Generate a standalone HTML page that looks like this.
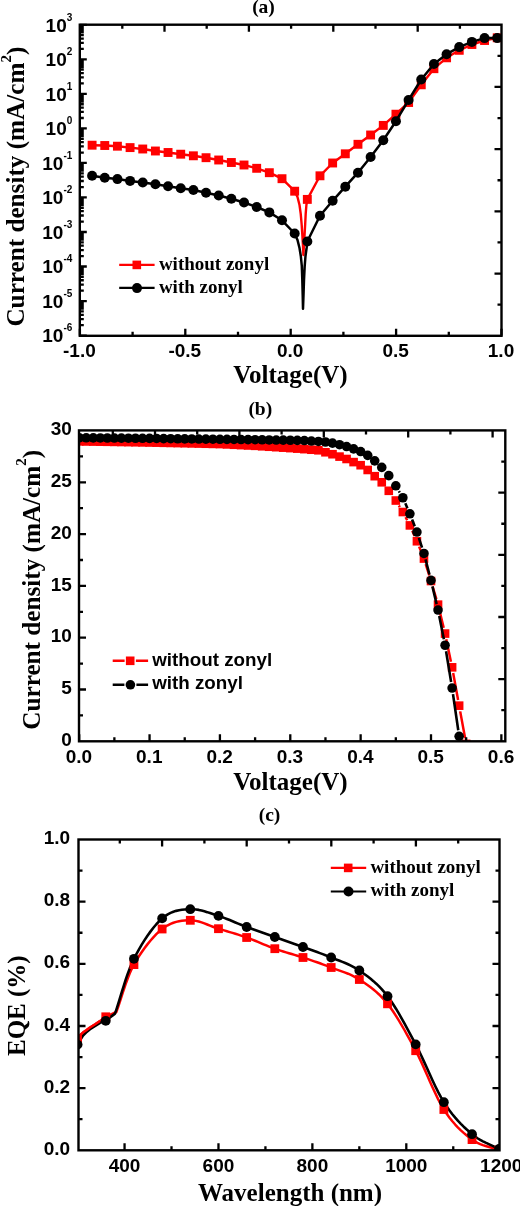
<!DOCTYPE html>
<html><head><meta charset="utf-8"><title>J-V and EQE curves</title>
<style>
html,body{margin:0;padding:0;background:#fff;}
body{width:520px;height:1206px;overflow:hidden;}
svg{display:block;}
</style></head>
<body>
<svg width="520" height="1206" viewBox="0 0 520 1206">
<rect width="520" height="1206" fill="#fff"/>
<defs>
<clipPath id="ca"><rect x="79.8" y="24.7" width="421.7" height="311.1"/></clipPath>
</defs>
<text x="263.5" y="12.8" font-family="'Liberation Serif', 'Times New Roman', serif" font-weight="bold" font-size="19.5" text-anchor="middle">(a)</text>
<path d="M92.1 145.2 L104.76 145.5 L117.42 146.2 L130.08 147.6 L142.74 149 L155.4 151 L168.06 152.5 L180.72 154.2 L193.38 155.8 L206.04 157.7 L218.7 160 L231.36 162.5 L244.02 165 L256.68 168.3 L269.34 172.7 L282 178.7 L294.66 191.2 L297.5 197 L299.5 205 L300.7 213.6 L301.7 225 L302.4 236 L303 246 L303.4 255 L303.9 246 L304.5 236 L305.2 224 L305.7 213.6 L306.4 205 L307.32 199.4 L319.98 175.8 L332.64 163 L345.3 153.8 L357.96 144.3 L370.62 135 L383.28 125.4 L395.94 114.2 L408.6 102.5 L421.26 84.8 L433.92 68.7 L446.58 57.8 L459.24 50.3 L471.9 44.5 L484.56 40.5 L497.22 37.8" fill="none" stroke="#ff0000" stroke-width="2.4" stroke-linejoin="round" stroke-linecap="butt" clip-path="url(#ca)"/>
<rect x="87.65" y="140.75" width="8.9" height="8.9" fill="#ff0000" clip-path="url(#ca)"/>
<rect x="100.31" y="141.05" width="8.9" height="8.9" fill="#ff0000" clip-path="url(#ca)"/>
<rect x="112.97" y="141.75" width="8.9" height="8.9" fill="#ff0000" clip-path="url(#ca)"/>
<rect x="125.63" y="143.15" width="8.9" height="8.9" fill="#ff0000" clip-path="url(#ca)"/>
<rect x="138.29" y="144.55" width="8.9" height="8.9" fill="#ff0000" clip-path="url(#ca)"/>
<rect x="150.95" y="146.55" width="8.9" height="8.9" fill="#ff0000" clip-path="url(#ca)"/>
<rect x="163.61" y="148.05" width="8.9" height="8.9" fill="#ff0000" clip-path="url(#ca)"/>
<rect x="176.27" y="149.75" width="8.9" height="8.9" fill="#ff0000" clip-path="url(#ca)"/>
<rect x="188.93" y="151.35" width="8.9" height="8.9" fill="#ff0000" clip-path="url(#ca)"/>
<rect x="201.59" y="153.25" width="8.9" height="8.9" fill="#ff0000" clip-path="url(#ca)"/>
<rect x="214.25" y="155.55" width="8.9" height="8.9" fill="#ff0000" clip-path="url(#ca)"/>
<rect x="226.91" y="158.05" width="8.9" height="8.9" fill="#ff0000" clip-path="url(#ca)"/>
<rect x="239.57" y="160.55" width="8.9" height="8.9" fill="#ff0000" clip-path="url(#ca)"/>
<rect x="252.23" y="163.85" width="8.9" height="8.9" fill="#ff0000" clip-path="url(#ca)"/>
<rect x="264.89" y="168.25" width="8.9" height="8.9" fill="#ff0000" clip-path="url(#ca)"/>
<rect x="277.55" y="174.25" width="8.9" height="8.9" fill="#ff0000" clip-path="url(#ca)"/>
<rect x="290.21" y="186.75" width="8.9" height="8.9" fill="#ff0000" clip-path="url(#ca)"/>
<rect x="302.87" y="194.95" width="8.9" height="8.9" fill="#ff0000" clip-path="url(#ca)"/>
<rect x="315.53" y="171.35" width="8.9" height="8.9" fill="#ff0000" clip-path="url(#ca)"/>
<rect x="328.19" y="158.55" width="8.9" height="8.9" fill="#ff0000" clip-path="url(#ca)"/>
<rect x="340.85" y="149.35" width="8.9" height="8.9" fill="#ff0000" clip-path="url(#ca)"/>
<rect x="353.51" y="139.85" width="8.9" height="8.9" fill="#ff0000" clip-path="url(#ca)"/>
<rect x="366.17" y="130.55" width="8.9" height="8.9" fill="#ff0000" clip-path="url(#ca)"/>
<rect x="378.83" y="120.95" width="8.9" height="8.9" fill="#ff0000" clip-path="url(#ca)"/>
<rect x="391.49" y="109.75" width="8.9" height="8.9" fill="#ff0000" clip-path="url(#ca)"/>
<rect x="404.15" y="98.05" width="8.9" height="8.9" fill="#ff0000" clip-path="url(#ca)"/>
<rect x="416.81" y="80.35" width="8.9" height="8.9" fill="#ff0000" clip-path="url(#ca)"/>
<rect x="429.47" y="64.25" width="8.9" height="8.9" fill="#ff0000" clip-path="url(#ca)"/>
<rect x="442.13" y="53.35" width="8.9" height="8.9" fill="#ff0000" clip-path="url(#ca)"/>
<rect x="454.79" y="45.85" width="8.9" height="8.9" fill="#ff0000" clip-path="url(#ca)"/>
<rect x="467.45" y="40.05" width="8.9" height="8.9" fill="#ff0000" clip-path="url(#ca)"/>
<rect x="480.11" y="36.05" width="8.9" height="8.9" fill="#ff0000" clip-path="url(#ca)"/>
<rect x="492.77" y="33.35" width="8.9" height="8.9" fill="#ff0000" clip-path="url(#ca)"/>
<path d="M92.1 175.8 L104.76 177.8 L117.42 179.1 L130.08 180.9 L142.74 182.5 L155.4 184.3 L168.06 186.3 L180.72 188.3 L193.38 190 L206.04 192.8 L218.7 195.5 L231.36 198.8 L244.02 202.5 L256.68 207 L269.34 212.4 L282 220.3 L294.66 233.5 L297.5 240 L299.5 248 L300.8 256 L301.8 266 L302.3 280 L302.7 295 L303 308.8 L303.5 295 L304 280 L304.7 266 L305.5 256 L306.6 248 L307.32 241.5 L319.98 215.7 L332.64 200.8 L345.3 186.7 L357.96 172.7 L370.62 157 L383.28 140.2 L395.94 121.2 L408.6 100 L421.26 79.5 L433.92 64 L446.58 54.2 L459.24 47.1 L471.9 41.9 L484.56 38.1 L497.22 38.1" fill="none" stroke="#000000" stroke-width="2.5" stroke-linejoin="round" stroke-linecap="butt" clip-path="url(#ca)"/>
<circle cx="92.1" cy="175.8" r="5" fill="#000000" clip-path="url(#ca)"/>
<circle cx="104.76" cy="177.8" r="5" fill="#000000" clip-path="url(#ca)"/>
<circle cx="117.42" cy="179.1" r="5" fill="#000000" clip-path="url(#ca)"/>
<circle cx="130.08" cy="180.9" r="5" fill="#000000" clip-path="url(#ca)"/>
<circle cx="142.74" cy="182.5" r="5" fill="#000000" clip-path="url(#ca)"/>
<circle cx="155.4" cy="184.3" r="5" fill="#000000" clip-path="url(#ca)"/>
<circle cx="168.06" cy="186.3" r="5" fill="#000000" clip-path="url(#ca)"/>
<circle cx="180.72" cy="188.3" r="5" fill="#000000" clip-path="url(#ca)"/>
<circle cx="193.38" cy="190" r="5" fill="#000000" clip-path="url(#ca)"/>
<circle cx="206.04" cy="192.8" r="5" fill="#000000" clip-path="url(#ca)"/>
<circle cx="218.7" cy="195.5" r="5" fill="#000000" clip-path="url(#ca)"/>
<circle cx="231.36" cy="198.8" r="5" fill="#000000" clip-path="url(#ca)"/>
<circle cx="244.02" cy="202.5" r="5" fill="#000000" clip-path="url(#ca)"/>
<circle cx="256.68" cy="207" r="5" fill="#000000" clip-path="url(#ca)"/>
<circle cx="269.34" cy="212.4" r="5" fill="#000000" clip-path="url(#ca)"/>
<circle cx="282" cy="220.3" r="5" fill="#000000" clip-path="url(#ca)"/>
<circle cx="294.66" cy="233.5" r="5" fill="#000000" clip-path="url(#ca)"/>
<circle cx="307.32" cy="241.5" r="5" fill="#000000" clip-path="url(#ca)"/>
<circle cx="319.98" cy="215.7" r="5" fill="#000000" clip-path="url(#ca)"/>
<circle cx="332.64" cy="200.8" r="5" fill="#000000" clip-path="url(#ca)"/>
<circle cx="345.3" cy="186.7" r="5" fill="#000000" clip-path="url(#ca)"/>
<circle cx="357.96" cy="172.7" r="5" fill="#000000" clip-path="url(#ca)"/>
<circle cx="370.62" cy="157" r="5" fill="#000000" clip-path="url(#ca)"/>
<circle cx="383.28" cy="140.2" r="5" fill="#000000" clip-path="url(#ca)"/>
<circle cx="395.94" cy="121.2" r="5" fill="#000000" clip-path="url(#ca)"/>
<circle cx="408.6" cy="100" r="5" fill="#000000" clip-path="url(#ca)"/>
<circle cx="421.26" cy="79.5" r="5" fill="#000000" clip-path="url(#ca)"/>
<circle cx="433.92" cy="64" r="5" fill="#000000" clip-path="url(#ca)"/>
<circle cx="446.58" cy="54.2" r="5" fill="#000000" clip-path="url(#ca)"/>
<circle cx="459.24" cy="47.1" r="5" fill="#000000" clip-path="url(#ca)"/>
<circle cx="471.9" cy="41.9" r="5" fill="#000000" clip-path="url(#ca)"/>
<circle cx="484.56" cy="38.1" r="5" fill="#000000" clip-path="url(#ca)"/>
<circle cx="497.22" cy="38.1" r="5" fill="#000000" clip-path="url(#ca)"/>
<rect x="79.8" y="24.7" width="421.7" height="311.1" fill="none" stroke="#000" stroke-width="2.4"/>
<path d="M79.9 335.8L79.9 328.8 M132.6 335.8L132.6 331.8 M185.3 335.8L185.3 328.8 M238 335.8L238 331.8 M290.7 335.8L290.7 328.8 M343.4 335.8L343.4 331.8 M396.1 335.8L396.1 328.8 M448.8 335.8L448.8 331.8 M501.5 335.8L501.5 328.8 M122.3 24.7L122.3 28.7 M164.5 24.7L164.5 31.7 M206.7 24.7L206.7 28.7 M248.9 24.7L248.9 31.7 M291.1 24.7L291.1 28.7 M333.3 24.7L333.3 31.7 M375.5 24.7L375.5 28.7 M417.7 24.7L417.7 31.7 M459.9 24.7L459.9 28.7 M79.8 335.57L86.8 335.57 M79.8 325.18L83.8 325.18 M79.8 319.1L83.8 319.1 M79.8 314.78L83.8 314.78 M79.8 311.43L83.8 311.43 M79.8 308.7L83.8 308.7 M79.8 306.39L83.8 306.39 M79.8 304.39L83.8 304.39 M79.8 302.62L83.8 302.62 M79.8 301.04L86.8 301.04 M79.8 290.65L83.8 290.65 M79.8 284.57L83.8 284.57 M79.8 280.25L83.8 280.25 M79.8 276.9L83.8 276.9 M79.8 274.17L83.8 274.17 M79.8 271.86L83.8 271.86 M79.8 269.86L83.8 269.86 M79.8 268.09L83.8 268.09 M79.8 266.51L86.8 266.51 M79.8 256.12L83.8 256.12 M79.8 250.04L83.8 250.04 M79.8 245.72L83.8 245.72 M79.8 242.37L83.8 242.37 M79.8 239.64L83.8 239.64 M79.8 237.33L83.8 237.33 M79.8 235.33L83.8 235.33 M79.8 233.56L83.8 233.56 M79.8 231.98L86.8 231.98 M79.8 221.59L83.8 221.59 M79.8 215.51L83.8 215.51 M79.8 211.19L83.8 211.19 M79.8 207.84L83.8 207.84 M79.8 205.11L83.8 205.11 M79.8 202.8L83.8 202.8 M79.8 200.8L83.8 200.8 M79.8 199.03L83.8 199.03 M79.8 197.45L86.8 197.45 M79.8 187.06L83.8 187.06 M79.8 180.98L83.8 180.98 M79.8 176.66L83.8 176.66 M79.8 173.31L83.8 173.31 M79.8 170.58L83.8 170.58 M79.8 168.27L83.8 168.27 M79.8 166.27L83.8 166.27 M79.8 164.5L83.8 164.5 M79.8 162.92L86.8 162.92 M79.8 152.53L83.8 152.53 M79.8 146.45L83.8 146.45 M79.8 142.13L83.8 142.13 M79.8 138.78L83.8 138.78 M79.8 136.05L83.8 136.05 M79.8 133.74L83.8 133.74 M79.8 131.74L83.8 131.74 M79.8 129.97L83.8 129.97 M79.8 128.39L86.8 128.39 M79.8 118L83.8 118 M79.8 111.92L83.8 111.92 M79.8 107.6L83.8 107.6 M79.8 104.25L83.8 104.25 M79.8 101.52L83.8 101.52 M79.8 99.21L83.8 99.21 M79.8 97.21L83.8 97.21 M79.8 95.44L83.8 95.44 M79.8 93.86L86.8 93.86 M79.8 83.47L83.8 83.47 M79.8 77.39L83.8 77.39 M79.8 73.07L83.8 73.07 M79.8 69.72L83.8 69.72 M79.8 66.99L83.8 66.99 M79.8 64.68L83.8 64.68 M79.8 62.68L83.8 62.68 M79.8 60.91L83.8 60.91 M79.8 59.33L86.8 59.33 M79.8 48.94L83.8 48.94 M79.8 42.86L83.8 42.86 M79.8 38.54L83.8 38.54 M79.8 35.19L83.8 35.19 M79.8 32.46L83.8 32.46 M79.8 30.15L83.8 30.15 M79.8 28.15L83.8 28.15 M79.8 26.38L83.8 26.38 M79.8 24.8L86.8 24.8 M501.5 55.81L497.5 55.81 M501.5 86.92L494.5 86.92 M501.5 118.03L497.5 118.03 M501.5 149.14L494.5 149.14 M501.5 180.25L497.5 180.25 M501.5 211.36L494.5 211.36 M501.5 242.47L497.5 242.47 M501.5 273.58L494.5 273.58 M501.5 304.69L497.5 304.69" stroke="#000" stroke-width="2.3" fill="none"/>
<text x="79.4" y="356.8" font-family="'Liberation Sans', Arial, sans-serif" font-weight="bold" font-size="19" text-anchor="middle">-1.0</text>
<text x="184.8" y="356.8" font-family="'Liberation Sans', Arial, sans-serif" font-weight="bold" font-size="19" text-anchor="middle">-0.5</text>
<text x="290.2" y="356.8" font-family="'Liberation Sans', Arial, sans-serif" font-weight="bold" font-size="19" text-anchor="middle">0.0</text>
<text x="395.6" y="356.8" font-family="'Liberation Sans', Arial, sans-serif" font-weight="bold" font-size="19" text-anchor="middle">0.5</text>
<text x="501" y="356.8" font-family="'Liberation Sans', Arial, sans-serif" font-weight="bold" font-size="19" text-anchor="middle">1.0</text>
<text x="72.3" y="342.27" font-family="'Liberation Sans', Arial, sans-serif" font-weight="bold" font-size="19" text-anchor="end">10<tspan font-size="10" dy="-10.8">-6</tspan></text>
<text x="72.3" y="307.74" font-family="'Liberation Sans', Arial, sans-serif" font-weight="bold" font-size="19" text-anchor="end">10<tspan font-size="10" dy="-10.8">-5</tspan></text>
<text x="72.3" y="273.21" font-family="'Liberation Sans', Arial, sans-serif" font-weight="bold" font-size="19" text-anchor="end">10<tspan font-size="10" dy="-10.8">-4</tspan></text>
<text x="72.3" y="238.68" font-family="'Liberation Sans', Arial, sans-serif" font-weight="bold" font-size="19" text-anchor="end">10<tspan font-size="10" dy="-10.8">-3</tspan></text>
<text x="72.3" y="204.15" font-family="'Liberation Sans', Arial, sans-serif" font-weight="bold" font-size="19" text-anchor="end">10<tspan font-size="10" dy="-10.8">-2</tspan></text>
<text x="72.3" y="169.62" font-family="'Liberation Sans', Arial, sans-serif" font-weight="bold" font-size="19" text-anchor="end">10<tspan font-size="10" dy="-10.8">-1</tspan></text>
<text x="72.3" y="135.09" font-family="'Liberation Sans', Arial, sans-serif" font-weight="bold" font-size="19" text-anchor="end">10<tspan font-size="10" dy="-10.8">0</tspan></text>
<text x="72.3" y="100.56" font-family="'Liberation Sans', Arial, sans-serif" font-weight="bold" font-size="19" text-anchor="end">10<tspan font-size="10" dy="-10.8">1</tspan></text>
<text x="72.3" y="66.03" font-family="'Liberation Sans', Arial, sans-serif" font-weight="bold" font-size="19" text-anchor="end">10<tspan font-size="10" dy="-10.8">2</tspan></text>
<text x="72.3" y="31.5" font-family="'Liberation Sans', Arial, sans-serif" font-weight="bold" font-size="19" text-anchor="end">10<tspan font-size="10" dy="-10.8">3</tspan></text>
<text x="290.5" y="383" font-family="'Liberation Serif', 'Times New Roman', serif" font-weight="bold" font-size="25" text-anchor="middle">Voltage(V)</text>
<text transform="translate(24.4 186.65) rotate(-90)" font-family="'Liberation Serif', 'Times New Roman', serif" font-weight="bold" font-size="25.2" text-anchor="middle">Current density (mA/cm<tspan font-size="15" dy="-13.7">2</tspan><tspan dy="13.7">)</tspan></text>
<path d="M119.2 264.9 L154.6 264.9" fill="none" stroke="#ff0000" stroke-width="2.2" stroke-linejoin="round" stroke-linecap="butt"/>
<rect x="132.5" y="260.6" width="8.6" height="8.6" fill="#ff0000"/>
<path d="M119.2 287.9 L154.6 287.9" fill="none" stroke="#000000" stroke-width="2.2" stroke-linejoin="round" stroke-linecap="butt"/>
<circle cx="137" cy="288.1" r="5" fill="#000000"/>
<text x="158.9" y="269.8" font-family="'Liberation Serif', 'Times New Roman', serif" font-weight="bold" font-size="19" text-anchor="start">without zonyl</text>
<text x="158.9" y="293.3" font-family="'Liberation Serif', 'Times New Roman', serif" font-weight="bold" font-size="19" text-anchor="start">with zonyl</text>
<defs><clipPath id="cb"><rect x="79" y="430.4" width="426.3" height="310.9"/></clipPath></defs>
<text x="260.3" y="415.1" font-family="'Liberation Serif', 'Times New Roman', serif" font-weight="bold" font-size="19.5" text-anchor="middle">(b)</text>
<path d="M398.85 505.48L399.83 507.09 M405.56 517.17L407.19 520.27 M412.25 530.7L414.57 535.95 M419.11 546.62L421.78 553.18 M425.7 564.08L429.27 575.5 M432.66 586.59L436.38 599.09 M439.41 610.29L443.7 627.92 M446.25 639.23L450.93 661.65 M453.16 673.03L458.1 699.96 M460.19 711.37L465.13 738.19" stroke="#ff0000" stroke-width="2.5" fill="none" clip-path="url(#cb)"/>
<rect x="74.9" y="437.08" width="8.6" height="8.6" fill="#ff0000" clip-path="url(#cb)"/>
<rect x="81.94" y="437.18" width="8.6" height="8.6" fill="#ff0000" clip-path="url(#cb)"/>
<rect x="88.97" y="437.29" width="8.6" height="8.6" fill="#ff0000" clip-path="url(#cb)"/>
<rect x="96.01" y="437.39" width="8.6" height="8.6" fill="#ff0000" clip-path="url(#cb)"/>
<rect x="103.04" y="437.49" width="8.6" height="8.6" fill="#ff0000" clip-path="url(#cb)"/>
<rect x="110.08" y="437.6" width="8.6" height="8.6" fill="#ff0000" clip-path="url(#cb)"/>
<rect x="117.12" y="437.72" width="8.6" height="8.6" fill="#ff0000" clip-path="url(#cb)"/>
<rect x="124.15" y="437.84" width="8.6" height="8.6" fill="#ff0000" clip-path="url(#cb)"/>
<rect x="131.19" y="437.97" width="8.6" height="8.6" fill="#ff0000" clip-path="url(#cb)"/>
<rect x="138.22" y="438.09" width="8.6" height="8.6" fill="#ff0000" clip-path="url(#cb)"/>
<rect x="145.26" y="438.22" width="8.6" height="8.6" fill="#ff0000" clip-path="url(#cb)"/>
<rect x="152.3" y="438.36" width="8.6" height="8.6" fill="#ff0000" clip-path="url(#cb)"/>
<rect x="159.33" y="438.51" width="8.6" height="8.6" fill="#ff0000" clip-path="url(#cb)"/>
<rect x="166.37" y="438.65" width="8.6" height="8.6" fill="#ff0000" clip-path="url(#cb)"/>
<rect x="173.4" y="438.8" width="8.6" height="8.6" fill="#ff0000" clip-path="url(#cb)"/>
<rect x="180.44" y="438.94" width="8.6" height="8.6" fill="#ff0000" clip-path="url(#cb)"/>
<rect x="187.48" y="439.11" width="8.6" height="8.6" fill="#ff0000" clip-path="url(#cb)"/>
<rect x="194.51" y="439.27" width="8.6" height="8.6" fill="#ff0000" clip-path="url(#cb)"/>
<rect x="201.55" y="439.44" width="8.6" height="8.6" fill="#ff0000" clip-path="url(#cb)"/>
<rect x="208.58" y="439.61" width="8.6" height="8.6" fill="#ff0000" clip-path="url(#cb)"/>
<rect x="215.62" y="439.77" width="8.6" height="8.6" fill="#ff0000" clip-path="url(#cb)"/>
<rect x="222.66" y="440.12" width="8.6" height="8.6" fill="#ff0000" clip-path="url(#cb)"/>
<rect x="229.69" y="440.48" width="8.6" height="8.6" fill="#ff0000" clip-path="url(#cb)"/>
<rect x="236.73" y="440.83" width="8.6" height="8.6" fill="#ff0000" clip-path="url(#cb)"/>
<rect x="243.76" y="441.18" width="8.6" height="8.6" fill="#ff0000" clip-path="url(#cb)"/>
<rect x="250.8" y="441.53" width="8.6" height="8.6" fill="#ff0000" clip-path="url(#cb)"/>
<rect x="257.84" y="441.99" width="8.6" height="8.6" fill="#ff0000" clip-path="url(#cb)"/>
<rect x="264.87" y="442.44" width="8.6" height="8.6" fill="#ff0000" clip-path="url(#cb)"/>
<rect x="271.91" y="442.9" width="8.6" height="8.6" fill="#ff0000" clip-path="url(#cb)"/>
<rect x="278.94" y="443.36" width="8.6" height="8.6" fill="#ff0000" clip-path="url(#cb)"/>
<rect x="285.98" y="443.81" width="8.6" height="8.6" fill="#ff0000" clip-path="url(#cb)"/>
<rect x="293.02" y="444.33" width="8.6" height="8.6" fill="#ff0000" clip-path="url(#cb)"/>
<rect x="300.05" y="444.85" width="8.6" height="8.6" fill="#ff0000" clip-path="url(#cb)"/>
<rect x="307.09" y="445.42" width="8.6" height="8.6" fill="#ff0000" clip-path="url(#cb)"/>
<rect x="314.12" y="445.99" width="8.6" height="8.6" fill="#ff0000" clip-path="url(#cb)"/>
<rect x="321.16" y="447.96" width="8.6" height="8.6" fill="#ff0000" clip-path="url(#cb)"/>
<rect x="328.2" y="449.92" width="8.6" height="8.6" fill="#ff0000" clip-path="url(#cb)"/>
<rect x="335.23" y="452.31" width="8.6" height="8.6" fill="#ff0000" clip-path="url(#cb)"/>
<rect x="342.27" y="454.69" width="8.6" height="8.6" fill="#ff0000" clip-path="url(#cb)"/>
<rect x="349.3" y="457.8" width="8.6" height="8.6" fill="#ff0000" clip-path="url(#cb)"/>
<rect x="356.34" y="460.91" width="8.6" height="8.6" fill="#ff0000" clip-path="url(#cb)"/>
<rect x="363.38" y="465.67" width="8.6" height="8.6" fill="#ff0000" clip-path="url(#cb)"/>
<rect x="370.41" y="471.89" width="8.6" height="8.6" fill="#ff0000" clip-path="url(#cb)"/>
<rect x="377.45" y="478" width="8.6" height="8.6" fill="#ff0000" clip-path="url(#cb)"/>
<rect x="384.48" y="486.5" width="8.6" height="8.6" fill="#ff0000" clip-path="url(#cb)"/>
<rect x="391.52" y="496.23" width="8.6" height="8.6" fill="#ff0000" clip-path="url(#cb)"/>
<rect x="398.56" y="507.73" width="8.6" height="8.6" fill="#ff0000" clip-path="url(#cb)"/>
<rect x="405.59" y="521.1" width="8.6" height="8.6" fill="#ff0000" clip-path="url(#cb)"/>
<rect x="412.63" y="536.95" width="8.6" height="8.6" fill="#ff0000" clip-path="url(#cb)"/>
<rect x="419.66" y="554.25" width="8.6" height="8.6" fill="#ff0000" clip-path="url(#cb)"/>
<rect x="426.7" y="576.73" width="8.6" height="8.6" fill="#ff0000" clip-path="url(#cb)"/>
<rect x="433.74" y="600.35" width="8.6" height="8.6" fill="#ff0000" clip-path="url(#cb)"/>
<rect x="440.77" y="629.26" width="8.6" height="8.6" fill="#ff0000" clip-path="url(#cb)"/>
<rect x="447.81" y="663.03" width="8.6" height="8.6" fill="#ff0000" clip-path="url(#cb)"/>
<rect x="454.84" y="701.36" width="8.6" height="8.6" fill="#ff0000" clip-path="url(#cb)"/>
<rect x="461.88" y="739.59" width="8.6" height="8.6" fill="#ff0000" clip-path="url(#cb)"/>
<path d="M398.92 491.07L399.75 492.48 M405.3 503.32L407.44 508.21 M412.09 519.49L414.73 526.34 M418.83 537.82L422.06 547.68 M425.51 559.38L429.46 574.51 M432.41 586.34L436.63 604.1 M439.23 616.02L443.88 639.28 M446.06 651.28L451.12 682.03 M452.99 694.09L458.26 730.29" stroke="#000000" stroke-width="2.6" fill="none" clip-path="url(#cb)"/>
<circle cx="79.2" cy="437.75" r="4.8" fill="#000000" clip-path="url(#cb)"/>
<circle cx="86.24" cy="437.81" r="4.8" fill="#000000" clip-path="url(#cb)"/>
<circle cx="93.27" cy="437.88" r="4.8" fill="#000000" clip-path="url(#cb)"/>
<circle cx="100.31" cy="437.94" r="4.8" fill="#000000" clip-path="url(#cb)"/>
<circle cx="107.34" cy="438" r="4.8" fill="#000000" clip-path="url(#cb)"/>
<circle cx="114.38" cy="438.06" r="4.8" fill="#000000" clip-path="url(#cb)"/>
<circle cx="121.42" cy="438.12" r="4.8" fill="#000000" clip-path="url(#cb)"/>
<circle cx="128.45" cy="438.19" r="4.8" fill="#000000" clip-path="url(#cb)"/>
<circle cx="135.49" cy="438.25" r="4.8" fill="#000000" clip-path="url(#cb)"/>
<circle cx="142.52" cy="438.31" r="4.8" fill="#000000" clip-path="url(#cb)"/>
<circle cx="149.56" cy="438.37" r="4.8" fill="#000000" clip-path="url(#cb)"/>
<circle cx="156.6" cy="438.48" r="4.8" fill="#000000" clip-path="url(#cb)"/>
<circle cx="163.63" cy="438.58" r="4.8" fill="#000000" clip-path="url(#cb)"/>
<circle cx="170.67" cy="438.68" r="4.8" fill="#000000" clip-path="url(#cb)"/>
<circle cx="177.7" cy="438.79" r="4.8" fill="#000000" clip-path="url(#cb)"/>
<circle cx="184.74" cy="438.89" r="4.8" fill="#000000" clip-path="url(#cb)"/>
<circle cx="191.78" cy="438.97" r="4.8" fill="#000000" clip-path="url(#cb)"/>
<circle cx="198.81" cy="439.06" r="4.8" fill="#000000" clip-path="url(#cb)"/>
<circle cx="205.85" cy="439.14" r="4.8" fill="#000000" clip-path="url(#cb)"/>
<circle cx="212.88" cy="439.22" r="4.8" fill="#000000" clip-path="url(#cb)"/>
<circle cx="219.92" cy="439.31" r="4.8" fill="#000000" clip-path="url(#cb)"/>
<circle cx="226.96" cy="439.39" r="4.8" fill="#000000" clip-path="url(#cb)"/>
<circle cx="233.99" cy="439.47" r="4.8" fill="#000000" clip-path="url(#cb)"/>
<circle cx="241.03" cy="439.55" r="4.8" fill="#000000" clip-path="url(#cb)"/>
<circle cx="248.06" cy="439.64" r="4.8" fill="#000000" clip-path="url(#cb)"/>
<circle cx="255.1" cy="439.72" r="4.8" fill="#000000" clip-path="url(#cb)"/>
<circle cx="262.14" cy="439.82" r="4.8" fill="#000000" clip-path="url(#cb)"/>
<circle cx="269.17" cy="439.93" r="4.8" fill="#000000" clip-path="url(#cb)"/>
<circle cx="276.21" cy="440.03" r="4.8" fill="#000000" clip-path="url(#cb)"/>
<circle cx="283.24" cy="440.13" r="4.8" fill="#000000" clip-path="url(#cb)"/>
<circle cx="290.28" cy="440.24" r="4.8" fill="#000000" clip-path="url(#cb)"/>
<circle cx="297.32" cy="440.39" r="4.8" fill="#000000" clip-path="url(#cb)"/>
<circle cx="304.35" cy="440.55" r="4.8" fill="#000000" clip-path="url(#cb)"/>
<circle cx="311.39" cy="441.02" r="4.8" fill="#000000" clip-path="url(#cb)"/>
<circle cx="318.42" cy="441.48" r="4.8" fill="#000000" clip-path="url(#cb)"/>
<circle cx="325.46" cy="442" r="4.8" fill="#000000" clip-path="url(#cb)"/>
<circle cx="332.5" cy="443.14" r="4.8" fill="#000000" clip-path="url(#cb)"/>
<circle cx="339.53" cy="444.69" r="4.8" fill="#000000" clip-path="url(#cb)"/>
<circle cx="346.57" cy="446.56" r="4.8" fill="#000000" clip-path="url(#cb)"/>
<circle cx="353.6" cy="448.84" r="4.8" fill="#000000" clip-path="url(#cb)"/>
<circle cx="360.64" cy="451.53" r="4.8" fill="#000000" clip-path="url(#cb)"/>
<circle cx="367.68" cy="455.36" r="4.8" fill="#000000" clip-path="url(#cb)"/>
<circle cx="374.71" cy="460.85" r="4.8" fill="#000000" clip-path="url(#cb)"/>
<circle cx="381.75" cy="467.38" r="4.8" fill="#000000" clip-path="url(#cb)"/>
<circle cx="388.78" cy="475.67" r="4.8" fill="#000000" clip-path="url(#cb)"/>
<circle cx="395.82" cy="485.82" r="4.8" fill="#000000" clip-path="url(#cb)"/>
<circle cx="402.86" cy="497.74" r="4.8" fill="#000000" clip-path="url(#cb)"/>
<circle cx="409.89" cy="513.79" r="4.8" fill="#000000" clip-path="url(#cb)"/>
<circle cx="416.93" cy="532.03" r="4.8" fill="#000000" clip-path="url(#cb)"/>
<circle cx="423.96" cy="553.47" r="4.8" fill="#000000" clip-path="url(#cb)"/>
<circle cx="431" cy="580.41" r="4.8" fill="#000000" clip-path="url(#cb)"/>
<circle cx="438.04" cy="610.04" r="4.8" fill="#000000" clip-path="url(#cb)"/>
<circle cx="445.07" cy="645.26" r="4.8" fill="#000000" clip-path="url(#cb)"/>
<circle cx="452.11" cy="688.05" r="4.8" fill="#000000" clip-path="url(#cb)"/>
<circle cx="459.14" cy="736.33" r="4.8" fill="#000000" clip-path="url(#cb)"/>
<rect x="79" y="430.4" width="426.3" height="310.9" fill="none" stroke="#000" stroke-width="2.4"/>
<path d="M79.2 741.3L79.2 734.3 M114.38 741.3L114.38 737.3 M149.56 741.3L149.56 734.3 M184.74 741.3L184.74 737.3 M219.92 741.3L219.92 734.3 M255.1 741.3L255.1 737.3 M290.28 741.3L290.28 734.3 M325.46 741.3L325.46 737.3 M360.64 741.3L360.64 734.3 M395.82 741.3L395.82 737.3 M431 741.3L431 734.3 M466.18 741.3L466.18 737.3 M501.36 741.3L501.36 734.3 M112.8 430.4L112.8 434.4 M155 430.4L155 437.4 M197.2 430.4L197.2 434.4 M239.4 430.4L239.4 437.4 M281.6 430.4L281.6 434.4 M323.8 430.4L323.8 437.4 M366 430.4L366 434.4 M408.2 430.4L408.2 437.4 M450.4 430.4L450.4 434.4 M492.6 430.4L492.6 437.4 M79 715.4L83 715.4 M79 689.5L86 689.5 M79 663.6L83 663.6 M79 637.7L86 637.7 M79 611.8L83 611.8 M79 585.9L86 585.9 M79 560L83 560 M79 534.1L86 534.1 M79 508.2L83 508.2 M79 482.3L86 482.3 M79 456.4L83 456.4 M505.3 710.22L501.3 710.22 M505.3 679.14L498.3 679.14 M505.3 648.06L501.3 648.06 M505.3 616.98L498.3 616.98 M505.3 585.9L501.3 585.9 M505.3 554.82L498.3 554.82 M505.3 523.74L501.3 523.74 M505.3 492.66L498.3 492.66 M505.3 461.58L501.3 461.58" stroke="#000" stroke-width="2.3" fill="none"/>
<text x="78.9" y="762.7" font-family="'Liberation Sans', Arial, sans-serif" font-weight="bold" font-size="19" text-anchor="middle">0.0</text>
<text x="149.26" y="762.7" font-family="'Liberation Sans', Arial, sans-serif" font-weight="bold" font-size="19" text-anchor="middle">0.1</text>
<text x="219.62" y="762.7" font-family="'Liberation Sans', Arial, sans-serif" font-weight="bold" font-size="19" text-anchor="middle">0.2</text>
<text x="289.98" y="762.7" font-family="'Liberation Sans', Arial, sans-serif" font-weight="bold" font-size="19" text-anchor="middle">0.3</text>
<text x="360.34" y="762.7" font-family="'Liberation Sans', Arial, sans-serif" font-weight="bold" font-size="19" text-anchor="middle">0.4</text>
<text x="430.7" y="762.7" font-family="'Liberation Sans', Arial, sans-serif" font-weight="bold" font-size="19" text-anchor="middle">0.5</text>
<text x="501.06" y="762.7" font-family="'Liberation Sans', Arial, sans-serif" font-weight="bold" font-size="19" text-anchor="middle">0.6</text>
<text x="71.9" y="746" font-family="'Liberation Sans', Arial, sans-serif" font-weight="bold" font-size="19" text-anchor="end">0</text>
<text x="71.9" y="694.2" font-family="'Liberation Sans', Arial, sans-serif" font-weight="bold" font-size="19" text-anchor="end">5</text>
<text x="71.9" y="642.4" font-family="'Liberation Sans', Arial, sans-serif" font-weight="bold" font-size="19" text-anchor="end">10</text>
<text x="71.9" y="590.6" font-family="'Liberation Sans', Arial, sans-serif" font-weight="bold" font-size="19" text-anchor="end">15</text>
<text x="71.9" y="538.8" font-family="'Liberation Sans', Arial, sans-serif" font-weight="bold" font-size="19" text-anchor="end">20</text>
<text x="71.9" y="487" font-family="'Liberation Sans', Arial, sans-serif" font-weight="bold" font-size="19" text-anchor="end">25</text>
<text x="71.9" y="435.2" font-family="'Liberation Sans', Arial, sans-serif" font-weight="bold" font-size="19" text-anchor="end">30</text>
<text x="290.5" y="790.3" font-family="'Liberation Serif', 'Times New Roman', serif" font-weight="bold" font-size="25" text-anchor="middle">Voltage(V)</text>
<text transform="translate(39.6 589.8) rotate(-90)" font-family="'Liberation Serif', 'Times New Roman', serif" font-weight="bold" font-size="25.2" text-anchor="middle">Current density (mA/cm<tspan font-size="15" dy="-13.7">2</tspan><tspan dy="13.7">)</tspan></text>
<path d="M112.7 660.8H124.6M135.9 660.8H148.1" stroke="#ff0000" stroke-width="2.5"/>
<rect x="125.9" y="656.5" width="8.6" height="8.6" fill="#ff0000"/>
<path d="M112.7 684.8H124.4M136.4 684.8H148.1" stroke="#000000" stroke-width="2.5"/>
<circle cx="130.4" cy="684.8" r="4.8" fill="#000000"/>
<text x="152.2" y="666.3" font-family="'Liberation Sans', Arial, sans-serif" font-weight="bold" font-size="18.8" text-anchor="start">without zonyl</text>
<text x="152.2" y="689.3" font-family="'Liberation Sans', Arial, sans-serif" font-weight="bold" font-size="18.8" text-anchor="start">with zonyl</text>
<defs><clipPath id="cc"><rect x="78.5" y="839.5" width="421" height="310.8"/></clipPath></defs>
<text x="269.5" y="820.6" font-family="'Liberation Serif', 'Times New Roman', serif" font-weight="bold" font-size="19.5" text-anchor="middle">(c)</text>
<path d="M77.6 1038.8 L80 1035.2 L83 1032.6 L86 1030.5 L90 1027.5 L95.2 1024.2 L100 1021 L105.77 1016.8 L116.3 1012 L118.02 1007.21 L119.66 1002.33 L121.26 997.41 L122.85 992.47 L124.47 987.56 L126.13 982.71 L127.88 977.95 L129.75 973.32 L131.76 968.86 L133.95 964.6 L136.34 960.44 L138.91 956.29 L141.63 952.21 L144.46 948.22 L147.38 944.38 L150.35 940.74 L153.34 937.33 L156.32 934.21 L159.26 931.42 L162.12 929 L164.94 926.96 L167.76 925.26 L170.57 923.87 L173.39 922.76 L176.21 921.9 L179.03 921.26 L181.84 920.81 L184.66 920.52 L187.48 920.36 L190.3 920.3 L193.11 920.45 L195.93 920.88 L198.75 921.55 L201.57 922.41 L204.38 923.41 L207.2 924.49 L210.02 925.61 L212.84 926.72 L215.65 927.77 L218.47 928.7 L221.29 929.55 L224.11 930.4 L226.92 931.24 L229.74 932.08 L232.56 932.92 L235.38 933.79 L238.19 934.67 L241.01 935.58 L243.83 936.52 L246.65 937.5 L249.46 938.53 L252.28 939.62 L255.1 940.76 L257.91 941.92 L260.73 943.1 L263.55 944.28 L266.37 945.44 L269.18 946.58 L272 947.67 L274.82 948.7 L277.64 949.67 L280.45 950.59 L283.27 951.48 L286.09 952.34 L288.91 953.18 L291.72 954.01 L294.54 954.85 L297.36 955.7 L300.18 956.58 L302.99 957.5 L305.81 958.44 L308.63 959.39 L311.45 960.35 L314.26 961.32 L317.08 962.3 L319.9 963.3 L322.72 964.32 L325.53 965.35 L328.35 966.41 L331.17 967.5 L333.99 968.56 L336.8 969.58 L339.62 970.57 L342.44 971.57 L345.25 972.61 L348.07 973.72 L350.89 974.93 L353.71 976.28 L356.52 977.79 L359.34 979.5 L362.16 981.33 L364.98 983.21 L367.79 985.17 L370.61 987.25 L373.43 989.47 L376.25 991.86 L379.06 994.46 L381.88 997.3 L384.7 1000.4 L387.52 1003.8 L390.33 1007.52 L393.15 1011.54 L395.97 1015.83 L398.79 1020.36 L401.6 1025.09 L404.42 1030 L407.24 1035.04 L410.06 1040.2 L412.87 1045.43 L415.69 1050.7 L418.51 1056.23 L421.33 1062.16 L424.14 1068.37 L426.96 1074.74 L429.78 1081.15 L432.59 1087.48 L435.41 1093.59 L438.23 1099.39 L441.05 1104.73 L443.86 1109.5 L446.69 1113.76 L449.52 1117.67 L452.36 1121.26 L455.19 1124.55 L458.03 1127.57 L460.86 1130.36 L463.68 1132.92 L466.48 1135.3 L469.27 1137.52 L472.04 1139.6 L474.78 1141.44 L477.51 1142.94 L480.22 1144.17 L482.91 1145.18 L485.6 1146.03 L488.27 1146.79 L490.95 1147.5 L493.63 1148.24 L496.31 1149.05 L499 1150" fill="none" stroke="#ff0000" stroke-width="2.5" stroke-linejoin="round" stroke-linecap="butt" clip-path="url(#cc)"/>
<path d="M78.5 1044.6 L80.5 1039.5 L83 1035.5 L86 1032.5 L90 1029.2 L95.2 1025.8 L100 1022.8 L105.77 1020.8 L115 1013.6 L116.85 1008.06 L118.64 1002.41 L120.39 996.71 L122.14 990.99 L123.9 985.3 L125.7 979.68 L127.59 974.18 L129.57 968.84 L131.68 963.7 L133.95 958.8 L136.39 954.04 L138.99 949.3 L141.72 944.64 L144.55 940.11 L147.46 935.75 L150.41 931.62 L153.38 927.77 L156.34 924.25 L159.26 921.11 L162.12 918.4 L164.94 916.14 L167.76 914.31 L170.57 912.85 L173.39 911.71 L176.21 910.86 L179.03 910.24 L181.84 909.81 L184.66 909.52 L187.48 909.34 L190.3 909.2 L193.11 909.21 L195.93 909.45 L198.75 909.9 L201.57 910.52 L204.38 911.28 L207.2 912.14 L210.02 913.07 L212.84 914.02 L215.65 914.98 L218.47 915.9 L221.29 916.84 L224.11 917.86 L226.92 918.94 L229.74 920.08 L232.56 921.24 L235.38 922.43 L238.19 923.61 L241.01 924.78 L243.83 925.91 L246.65 927 L249.46 928.04 L252.28 929.07 L255.1 930.08 L257.91 931.08 L260.73 932.07 L263.55 933.05 L266.37 934.03 L269.18 935.02 L272 936 L274.82 937 L277.64 938 L280.45 938.99 L283.27 939.98 L286.09 940.98 L288.91 941.97 L291.72 942.96 L294.54 943.96 L297.36 944.97 L300.18 945.98 L302.99 947 L305.81 948.02 L308.63 949.03 L311.45 950.03 L314.26 951.04 L317.08 952.06 L319.9 953.1 L322.72 954.15 L325.53 955.23 L328.35 956.35 L331.17 957.5 L333.99 958.64 L336.8 959.74 L339.62 960.82 L342.44 961.91 L345.25 963.05 L348.07 964.27 L350.89 965.59 L353.71 967.05 L356.52 968.67 L359.34 970.5 L362.16 972.45 L364.98 974.47 L367.79 976.57 L370.61 978.79 L373.43 981.15 L376.25 983.69 L379.06 986.44 L381.88 989.42 L384.7 992.66 L387.52 996.2 L390.33 1000.07 L393.15 1004.25 L395.97 1008.7 L398.79 1013.4 L401.6 1018.29 L404.42 1023.35 L407.24 1028.53 L410.06 1033.79 L412.87 1039.09 L415.69 1044.4 L418.51 1049.91 L421.33 1055.76 L424.14 1061.85 L426.96 1068.07 L429.78 1074.31 L432.59 1080.48 L435.41 1086.45 L438.23 1092.14 L441.05 1097.42 L443.86 1102.2 L446.69 1106.52 L449.52 1110.53 L452.36 1114.24 L455.19 1117.68 L458.03 1120.89 L460.86 1123.88 L463.68 1126.68 L466.48 1129.31 L469.27 1131.81 L472.04 1134.2 L474.78 1136.38 L477.51 1138.26 L480.22 1139.9 L482.91 1141.36 L485.6 1142.68 L488.27 1143.91 L490.95 1145.1 L493.63 1146.32 L496.31 1147.6 L499 1149" fill="none" stroke="#000000" stroke-width="2.6" stroke-linejoin="round" stroke-linecap="butt" clip-path="url(#cc)"/>
<path d="M77.6 1038.8 L80 1035.2 L83 1032.6 L86 1030.5 L90 1027.5 L95.2 1024.2 L100 1021" fill="none" stroke="#ff0000" stroke-width="2.5" stroke-linejoin="round" stroke-linecap="butt" clip-path="url(#cc)"/>
<rect x="73.2" y="1034.4" width="8.8" height="8.8" fill="#ff0000" clip-path="url(#cc)"/>
<rect x="101.37" y="1012.4" width="8.8" height="8.8" fill="#ff0000" clip-path="url(#cc)"/>
<rect x="129.55" y="960.2" width="8.8" height="8.8" fill="#ff0000" clip-path="url(#cc)"/>
<rect x="157.72" y="924.6" width="8.8" height="8.8" fill="#ff0000" clip-path="url(#cc)"/>
<rect x="185.9" y="915.9" width="8.8" height="8.8" fill="#ff0000" clip-path="url(#cc)"/>
<rect x="214.07" y="924.3" width="8.8" height="8.8" fill="#ff0000" clip-path="url(#cc)"/>
<rect x="242.25" y="933.1" width="8.8" height="8.8" fill="#ff0000" clip-path="url(#cc)"/>
<rect x="270.42" y="944.3" width="8.8" height="8.8" fill="#ff0000" clip-path="url(#cc)"/>
<rect x="298.59" y="953.1" width="8.8" height="8.8" fill="#ff0000" clip-path="url(#cc)"/>
<rect x="326.77" y="963.1" width="8.8" height="8.8" fill="#ff0000" clip-path="url(#cc)"/>
<rect x="354.94" y="975.1" width="8.8" height="8.8" fill="#ff0000" clip-path="url(#cc)"/>
<rect x="383.12" y="999.4" width="8.8" height="8.8" fill="#ff0000" clip-path="url(#cc)"/>
<rect x="411.29" y="1046.3" width="8.8" height="8.8" fill="#ff0000" clip-path="url(#cc)"/>
<rect x="439.46" y="1105.1" width="8.8" height="8.8" fill="#ff0000" clip-path="url(#cc)"/>
<rect x="467.64" y="1135.2" width="8.8" height="8.8" fill="#ff0000" clip-path="url(#cc)"/>
<rect x="494.6" y="1145.6" width="8.8" height="8.8" fill="#ff0000" clip-path="url(#cc)"/>
<circle cx="77.6" cy="1044.6" r="4.9" fill="#000000" clip-path="url(#cc)"/>
<circle cx="105.77" cy="1020.8" r="4.9" fill="#000000" clip-path="url(#cc)"/>
<circle cx="133.95" cy="958.8" r="4.9" fill="#000000" clip-path="url(#cc)"/>
<circle cx="162.12" cy="918.4" r="4.9" fill="#000000" clip-path="url(#cc)"/>
<circle cx="190.3" cy="909.2" r="4.9" fill="#000000" clip-path="url(#cc)"/>
<circle cx="218.47" cy="915.9" r="4.9" fill="#000000" clip-path="url(#cc)"/>
<circle cx="246.65" cy="927" r="4.9" fill="#000000" clip-path="url(#cc)"/>
<circle cx="274.82" cy="937" r="4.9" fill="#000000" clip-path="url(#cc)"/>
<circle cx="302.99" cy="947" r="4.9" fill="#000000" clip-path="url(#cc)"/>
<circle cx="331.17" cy="957.5" r="4.9" fill="#000000" clip-path="url(#cc)"/>
<circle cx="359.34" cy="970.5" r="4.9" fill="#000000" clip-path="url(#cc)"/>
<circle cx="387.52" cy="996.2" r="4.9" fill="#000000" clip-path="url(#cc)"/>
<circle cx="415.69" cy="1044.4" r="4.9" fill="#000000" clip-path="url(#cc)"/>
<circle cx="443.86" cy="1102.2" r="4.9" fill="#000000" clip-path="url(#cc)"/>
<circle cx="472.04" cy="1134.2" r="4.9" fill="#000000" clip-path="url(#cc)"/>
<circle cx="499" cy="1149" r="4.9" fill="#000000" clip-path="url(#cc)"/>
<rect x="78.5" y="839.5" width="421" height="310.8" fill="none" stroke="#000" stroke-width="2.4"/>
<path d="M124.56 1150.3L124.56 1143.3 M171.51 1150.3L171.51 1146.3 M218.47 1150.3L218.47 1143.3 M265.43 1150.3L265.43 1146.3 M312.38 1150.3L312.38 1143.3 M359.34 1150.3L359.34 1146.3 M406.3 1150.3L406.3 1143.3 M453.26 1150.3L453.26 1146.3 M119.8 839.5L119.8 843.5 M162.1 839.5L162.1 846.5 M204.4 839.5L204.4 843.5 M246.7 839.5L246.7 846.5 M289 839.5L289 843.5 M331.3 839.5L331.3 846.5 M373.6 839.5L373.6 843.5 M415.9 839.5L415.9 846.5 M458.2 839.5L458.2 843.5 M78.5 1119.22L82.5 1119.22 M499.5 1119.22L495.5 1119.22 M78.5 1088.14L85.5 1088.14 M499.5 1088.14L492.5 1088.14 M78.5 1057.06L82.5 1057.06 M499.5 1057.06L495.5 1057.06 M78.5 1025.98L85.5 1025.98 M499.5 1025.98L492.5 1025.98 M78.5 994.9L82.5 994.9 M499.5 994.9L495.5 994.9 M78.5 963.82L85.5 963.82 M499.5 963.82L492.5 963.82 M78.5 932.74L82.5 932.74 M499.5 932.74L495.5 932.74 M78.5 901.66L85.5 901.66 M499.5 901.66L492.5 901.66 M78.5 870.58L82.5 870.58 M499.5 870.58L495.5 870.58" stroke="#000" stroke-width="2.3" fill="none"/>
<text x="124.56" y="1171.6" font-family="'Liberation Sans', Arial, sans-serif" font-weight="bold" font-size="19" text-anchor="middle">400</text>
<text x="218.47" y="1171.6" font-family="'Liberation Sans', Arial, sans-serif" font-weight="bold" font-size="19" text-anchor="middle">600</text>
<text x="312.38" y="1171.6" font-family="'Liberation Sans', Arial, sans-serif" font-weight="bold" font-size="19" text-anchor="middle">800</text>
<text x="406.3" y="1171.6" font-family="'Liberation Sans', Arial, sans-serif" font-weight="bold" font-size="19" text-anchor="middle">1000</text>
<text x="501.21" y="1171.6" font-family="'Liberation Sans', Arial, sans-serif" font-weight="bold" font-size="19" text-anchor="middle">1200</text>
<text x="70.1" y="1154.9" font-family="'Liberation Sans', Arial, sans-serif" font-weight="bold" font-size="19" text-anchor="end">0.0</text>
<text x="70.1" y="1092.74" font-family="'Liberation Sans', Arial, sans-serif" font-weight="bold" font-size="19" text-anchor="end">0.2</text>
<text x="70.1" y="1030.58" font-family="'Liberation Sans', Arial, sans-serif" font-weight="bold" font-size="19" text-anchor="end">0.4</text>
<text x="70.1" y="968.42" font-family="'Liberation Sans', Arial, sans-serif" font-weight="bold" font-size="19" text-anchor="end">0.6</text>
<text x="70.1" y="906.26" font-family="'Liberation Sans', Arial, sans-serif" font-weight="bold" font-size="19" text-anchor="end">0.8</text>
<text x="70.1" y="844.1" font-family="'Liberation Sans', Arial, sans-serif" font-weight="bold" font-size="19" text-anchor="end">1.0</text>
<text x="290" y="1200.6" font-family="'Liberation Serif', 'Times New Roman', serif" font-weight="bold" font-size="25" text-anchor="middle">Wavelength (nm)</text>
<text transform="translate(24.6 1005.7) rotate(-90)" font-family="'Liberation Serif', 'Times New Roman', serif" font-weight="bold" font-size="25" text-anchor="middle">EQE (%)</text>
<path d="M330.8 867.9 L366.2 867.9" fill="none" stroke="#ff0000" stroke-width="2.2" stroke-linejoin="round" stroke-linecap="butt"/>
<rect x="343.9" y="863.6" width="8.6" height="8.6" fill="#ff0000"/>
<path d="M330.8 891.5 L366.2 891.5" fill="none" stroke="#000000" stroke-width="2.2" stroke-linejoin="round" stroke-linecap="butt"/>
<circle cx="348.5" cy="891.5" r="5" fill="#000000"/>
<text x="370.4" y="873.3" font-family="'Liberation Serif', 'Times New Roman', serif" font-weight="bold" font-size="19" text-anchor="start">without zonyl</text>
<text x="370.4" y="896.3" font-family="'Liberation Serif', 'Times New Roman', serif" font-weight="bold" font-size="19" text-anchor="start">with zonyl</text>
</svg>
</body></html>
